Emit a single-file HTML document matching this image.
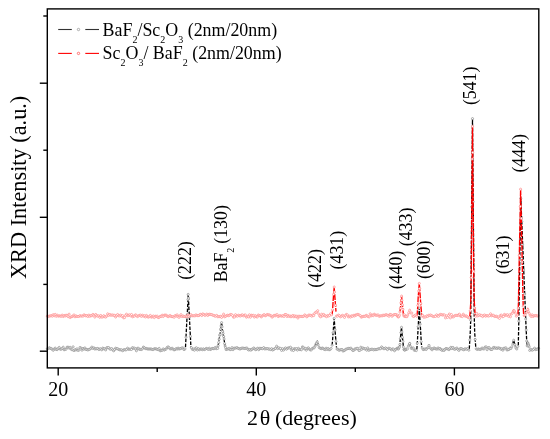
<!DOCTYPE html>
<html><head><meta charset="utf-8"><style>
html,body{margin:0;padding:0;background:#fff;}
svg{display:block;}
</style></head><body>
<svg width="550" height="439" viewBox="0 0 550 439" font-family="'Liberation Serif', 'Times New Roman', serif" fill="#000">
<rect width="550" height="439" fill="#fff"/>

<g fill="none" stroke="#000" stroke-width="1.3" stroke-dasharray="3.5 1.5"><polyline points="185.5,347.1 186.0,337.2 186.5,327.3 187.0,317.8 187.5,309.5 188.0,299.5 188.2,294.4 188.5,298.1 188.9,308.5 189.4,317.0 189.9,327.5 190.4,336.3 190.9,347.2"/><polyline points="218.2,345.7 218.7,342.4 219.2,339.2 219.7,335.4 220.1,334.6 220.6,329.1 221.1,326.0 221.6,322.6 222.1,326.9 222.6,331.3 223.1,333.4 223.6,336.5 224.1,339.0 224.6,343.7 225.1,346.0"/><polyline points="315.2,346.0 315.7,343.6 316.2,343.8 316.7,343.3 317.2,341.9 317.7,343.3 318.2,344.9"/><polyline points="332.1,345.2 332.6,339.7 333.1,332.8 333.6,326.1 334.2,318.3 334.5,323.0 335.0,329.8 335.5,336.2 336.0,341.5 336.5,347.5"/><polyline points="399.4,347.0 399.9,344.5 400.4,338.4 400.9,332.6 401.5,327.3 401.9,332.0 402.4,337.3 402.9,341.4 403.4,347.0"/><polyline points="408.8,344.6 409.3,344.1 409.7,343.5 410.3,346.2 410.8,347.0"/><polyline points="416.8,349.5 417.3,343.2 417.8,334.1 418.2,326.6 418.7,317.5 419.3,308.1 419.7,315.7 420.2,324.1 420.7,332.0 421.2,341.7 421.7,347.3"/><polyline points="469.3,348.9 469.8,339.9 470.2,333.7 470.7,320.2 471.2,263.0 471.7,206.8 472.2,150.8 472.5,118.6 472.7,143.7 473.2,201.7 473.7,257.5 474.2,313.7 474.7,333.1 475.2,339.4 475.7,346.7"/><polyline points="512.3,344.0 512.8,344.1 513.3,341.1 513.7,340.2 514.3,342.3 514.8,344.7 515.3,346.4"/><polyline points="518.3,345.6 518.8,321.1 519.3,290.3 519.8,260.0 520.3,230.5 520.8,198.3 521.3,210.0 521.8,221.5 522.2,232.3 522.7,244.9 523.2,256.3 523.7,270.0 524.2,282.3 524.7,294.0 525.2,306.7 525.7,319.0 526.2,330.0 526.7,341.0 527.2,345.9 527.8,342.9 528.2,344.0 528.7,345.2 529.2,346.9"/></g>
<g fill="#fff" stroke="#8c8c8c" stroke-width="0.7"><circle cx="47.3" cy="348.8" r="1.05"/><circle cx="48.3" cy="348.5" r="1.05"/><circle cx="49.3" cy="347.7" r="1.05"/><circle cx="50.3" cy="348.4" r="1.05"/><circle cx="51.3" cy="348.5" r="1.05"/><circle cx="52.3" cy="349.4" r="1.05"/><circle cx="53.2" cy="350.3" r="1.05"/><circle cx="54.2" cy="349.1" r="1.05"/><circle cx="55.2" cy="348.1" r="1.05"/><circle cx="56.2" cy="349.5" r="1.05"/><circle cx="57.2" cy="349.6" r="1.05"/><circle cx="58.2" cy="348.5" r="1.05"/><circle cx="59.2" cy="347.4" r="1.05"/><circle cx="60.2" cy="349.2" r="1.05"/><circle cx="61.2" cy="349.2" r="1.05"/><circle cx="62.2" cy="348.5" r="1.05"/><circle cx="63.2" cy="347.2" r="1.05"/><circle cx="64.1" cy="349.8" r="1.05"/><circle cx="65.1" cy="349.3" r="1.05"/><circle cx="66.1" cy="349.2" r="1.05"/><circle cx="67.1" cy="347.2" r="1.05"/><circle cx="68.1" cy="347.2" r="1.05"/><circle cx="69.1" cy="348.1" r="1.05"/><circle cx="70.1" cy="347.3" r="1.05"/><circle cx="71.1" cy="349.1" r="1.05"/><circle cx="72.1" cy="349.8" r="1.05"/><circle cx="73.1" cy="346.8" r="1.05"/><circle cx="74.0" cy="350.6" r="1.05"/><circle cx="75.0" cy="349.7" r="1.05"/><circle cx="76.0" cy="350.0" r="1.05"/><circle cx="77.0" cy="348.8" r="1.05"/><circle cx="78.0" cy="350.4" r="1.05"/><circle cx="79.0" cy="350.1" r="1.05"/><circle cx="80.0" cy="347.5" r="1.05"/><circle cx="81.0" cy="348.1" r="1.05"/><circle cx="82.0" cy="350.2" r="1.05"/><circle cx="83.0" cy="348.4" r="1.05"/><circle cx="84.0" cy="349.2" r="1.05"/><circle cx="84.9" cy="347.9" r="1.05"/><circle cx="85.9" cy="349.4" r="1.05"/><circle cx="86.9" cy="349.5" r="1.05"/><circle cx="87.9" cy="350.0" r="1.05"/><circle cx="88.9" cy="349.4" r="1.05"/><circle cx="89.9" cy="349.2" r="1.05"/><circle cx="90.9" cy="348.3" r="1.05"/><circle cx="91.9" cy="347.1" r="1.05"/><circle cx="92.9" cy="348.4" r="1.05"/><circle cx="93.9" cy="347.8" r="1.05"/><circle cx="94.8" cy="349.0" r="1.05"/><circle cx="95.8" cy="348.7" r="1.05"/><circle cx="96.8" cy="348.8" r="1.05"/><circle cx="97.8" cy="348.4" r="1.05"/><circle cx="98.8" cy="349.5" r="1.05"/><circle cx="99.8" cy="349.0" r="1.05"/><circle cx="100.8" cy="348.8" r="1.05"/><circle cx="101.8" cy="349.8" r="1.05"/><circle cx="102.8" cy="348.1" r="1.05"/><circle cx="103.8" cy="348.7" r="1.05"/><circle cx="104.8" cy="348.9" r="1.05"/><circle cx="105.7" cy="349.9" r="1.05"/><circle cx="106.7" cy="347.7" r="1.05"/><circle cx="107.7" cy="347.6" r="1.05"/><circle cx="108.7" cy="347.6" r="1.05"/><circle cx="109.7" cy="348.9" r="1.05"/><circle cx="110.7" cy="349.2" r="1.05"/><circle cx="111.7" cy="348.6" r="1.05"/><circle cx="112.7" cy="349.8" r="1.05"/><circle cx="113.7" cy="350.8" r="1.05"/><circle cx="114.7" cy="349.5" r="1.05"/><circle cx="115.6" cy="348.2" r="1.05"/><circle cx="116.6" cy="348.6" r="1.05"/><circle cx="117.6" cy="348.7" r="1.05"/><circle cx="118.6" cy="349.4" r="1.05"/><circle cx="119.6" cy="349.8" r="1.05"/><circle cx="120.6" cy="349.8" r="1.05"/><circle cx="121.6" cy="349.8" r="1.05"/><circle cx="122.6" cy="350.7" r="1.05"/><circle cx="123.6" cy="349.9" r="1.05"/><circle cx="124.6" cy="349.6" r="1.05"/><circle cx="125.6" cy="349.9" r="1.05"/><circle cx="126.5" cy="349.6" r="1.05"/><circle cx="127.5" cy="348.2" r="1.05"/><circle cx="128.5" cy="349.3" r="1.05"/><circle cx="129.5" cy="349.2" r="1.05"/><circle cx="130.5" cy="349.2" r="1.05"/><circle cx="131.5" cy="349.4" r="1.05"/><circle cx="132.5" cy="347.6" r="1.05"/><circle cx="133.5" cy="348.3" r="1.05"/><circle cx="134.5" cy="348.1" r="1.05"/><circle cx="135.5" cy="348.9" r="1.05"/><circle cx="136.4" cy="350.8" r="1.05"/><circle cx="137.4" cy="348.3" r="1.05"/><circle cx="138.4" cy="348.3" r="1.05"/><circle cx="139.4" cy="349.4" r="1.05"/><circle cx="140.4" cy="349.4" r="1.05"/><circle cx="141.4" cy="349.5" r="1.05"/><circle cx="142.4" cy="348.8" r="1.05"/><circle cx="143.4" cy="347.1" r="1.05"/><circle cx="144.4" cy="347.7" r="1.05"/><circle cx="145.4" cy="348.6" r="1.05"/><circle cx="146.4" cy="348.5" r="1.05"/><circle cx="147.3" cy="348.9" r="1.05"/><circle cx="148.3" cy="349.0" r="1.05"/><circle cx="149.3" cy="349.0" r="1.05"/><circle cx="150.3" cy="349.0" r="1.05"/><circle cx="151.3" cy="349.0" r="1.05"/><circle cx="152.3" cy="349.5" r="1.05"/><circle cx="153.3" cy="349.5" r="1.05"/><circle cx="154.3" cy="348.7" r="1.05"/><circle cx="155.3" cy="348.8" r="1.05"/><circle cx="156.3" cy="348.8" r="1.05"/><circle cx="157.2" cy="349.4" r="1.05"/><circle cx="158.2" cy="349.7" r="1.05"/><circle cx="159.2" cy="348.4" r="1.05"/><circle cx="160.2" cy="350.8" r="1.05"/><circle cx="161.2" cy="350.3" r="1.05"/><circle cx="162.2" cy="350.3" r="1.05"/><circle cx="163.2" cy="348.9" r="1.05"/><circle cx="164.2" cy="350.1" r="1.05"/><circle cx="165.2" cy="349.3" r="1.05"/><circle cx="166.2" cy="349.0" r="1.05"/><circle cx="167.2" cy="347.5" r="1.05"/><circle cx="168.1" cy="346.8" r="1.05"/><circle cx="169.1" cy="347.6" r="1.05"/><circle cx="170.1" cy="348.9" r="1.05"/><circle cx="171.1" cy="348.9" r="1.05"/><circle cx="172.1" cy="348.2" r="1.05"/><circle cx="173.1" cy="349.2" r="1.05"/><circle cx="174.1" cy="349.9" r="1.05"/><circle cx="175.1" cy="349.6" r="1.05"/><circle cx="176.1" cy="348.6" r="1.05"/><circle cx="177.1" cy="349.1" r="1.05"/><circle cx="178.1" cy="348.1" r="1.05"/><circle cx="179.0" cy="349.0" r="1.05"/><circle cx="180.0" cy="348.8" r="1.05"/><circle cx="181.0" cy="348.4" r="1.05"/><circle cx="182.0" cy="347.8" r="1.05"/><circle cx="183.0" cy="348.0" r="1.05"/><circle cx="184.0" cy="349.6" r="1.05"/><circle cx="185.0" cy="348.9" r="1.05"/><circle cx="186.0" cy="337.2" r="1.05"/><circle cx="187.0" cy="317.8" r="1.05"/><circle cx="188.0" cy="299.5" r="1.05"/><circle cx="188.2" cy="294.4" r="1.05"/><circle cx="188.5" cy="298.1" r="1.05"/><circle cx="189.4" cy="317.0" r="1.05"/><circle cx="190.4" cy="336.3" r="1.05"/><circle cx="191.4" cy="347.7" r="1.05"/><circle cx="192.4" cy="349.4" r="1.05"/><circle cx="193.4" cy="349.1" r="1.05"/><circle cx="194.4" cy="350.2" r="1.05"/><circle cx="195.4" cy="348.4" r="1.05"/><circle cx="196.4" cy="347.8" r="1.05"/><circle cx="197.4" cy="350.0" r="1.05"/><circle cx="198.4" cy="348.6" r="1.05"/><circle cx="199.3" cy="349.7" r="1.05"/><circle cx="200.3" cy="349.1" r="1.05"/><circle cx="201.3" cy="348.9" r="1.05"/><circle cx="202.3" cy="349.7" r="1.05"/><circle cx="203.3" cy="348.8" r="1.05"/><circle cx="204.3" cy="349.6" r="1.05"/><circle cx="205.3" cy="349.2" r="1.05"/><circle cx="206.3" cy="348.4" r="1.05"/><circle cx="207.3" cy="348.8" r="1.05"/><circle cx="208.3" cy="349.4" r="1.05"/><circle cx="209.3" cy="348.2" r="1.05"/><circle cx="210.2" cy="349.5" r="1.05"/><circle cx="211.2" cy="349.1" r="1.05"/><circle cx="212.2" cy="348.4" r="1.05"/><circle cx="213.2" cy="348.7" r="1.05"/><circle cx="214.2" cy="348.6" r="1.05"/><circle cx="215.2" cy="347.5" r="1.05"/><circle cx="216.2" cy="348.7" r="1.05"/><circle cx="217.2" cy="347.5" r="1.05"/><circle cx="217.7" cy="348.4" r="1.05"/><circle cx="218.2" cy="345.7" r="1.05"/><circle cx="218.7" cy="342.4" r="1.05"/><circle cx="219.2" cy="339.2" r="1.05"/><circle cx="219.7" cy="335.4" r="1.05"/><circle cx="220.1" cy="334.6" r="1.05"/><circle cx="220.6" cy="329.1" r="1.05"/><circle cx="221.1" cy="326.0" r="1.05"/><circle cx="221.6" cy="322.6" r="1.05"/><circle cx="222.1" cy="326.9" r="1.05"/><circle cx="222.6" cy="331.3" r="1.05"/><circle cx="223.1" cy="333.4" r="1.05"/><circle cx="223.6" cy="336.5" r="1.05"/><circle cx="224.1" cy="339.0" r="1.05"/><circle cx="224.6" cy="343.7" r="1.05"/><circle cx="225.1" cy="346.0" r="1.05"/><circle cx="225.6" cy="347.7" r="1.05"/><circle cx="226.1" cy="349.6" r="1.05"/><circle cx="227.1" cy="349.2" r="1.05"/><circle cx="228.1" cy="349.0" r="1.05"/><circle cx="229.1" cy="348.3" r="1.05"/><circle cx="230.1" cy="349.7" r="1.05"/><circle cx="231.0" cy="349.4" r="1.05"/><circle cx="232.0" cy="347.6" r="1.05"/><circle cx="233.0" cy="349.7" r="1.05"/><circle cx="234.0" cy="348.2" r="1.05"/><circle cx="235.0" cy="348.1" r="1.05"/><circle cx="236.0" cy="348.1" r="1.05"/><circle cx="237.0" cy="347.6" r="1.05"/><circle cx="238.0" cy="348.3" r="1.05"/><circle cx="239.0" cy="348.7" r="1.05"/><circle cx="240.0" cy="349.1" r="1.05"/><circle cx="240.9" cy="348.5" r="1.05"/><circle cx="241.9" cy="348.1" r="1.05"/><circle cx="242.9" cy="348.1" r="1.05"/><circle cx="243.9" cy="348.3" r="1.05"/><circle cx="244.9" cy="348.5" r="1.05"/><circle cx="245.9" cy="348.2" r="1.05"/><circle cx="246.9" cy="348.0" r="1.05"/><circle cx="247.9" cy="349.4" r="1.05"/><circle cx="248.9" cy="350.1" r="1.05"/><circle cx="249.9" cy="349.4" r="1.05"/><circle cx="250.9" cy="350.2" r="1.05"/><circle cx="251.8" cy="349.3" r="1.05"/><circle cx="252.8" cy="348.8" r="1.05"/><circle cx="253.8" cy="348.0" r="1.05"/><circle cx="254.8" cy="349.0" r="1.05"/><circle cx="255.8" cy="349.7" r="1.05"/><circle cx="256.8" cy="348.9" r="1.05"/><circle cx="257.8" cy="348.2" r="1.05"/><circle cx="258.8" cy="349.7" r="1.05"/><circle cx="259.8" cy="348.3" r="1.05"/><circle cx="260.8" cy="348.4" r="1.05"/><circle cx="261.7" cy="348.5" r="1.05"/><circle cx="262.7" cy="348.7" r="1.05"/><circle cx="263.7" cy="347.6" r="1.05"/><circle cx="264.7" cy="348.9" r="1.05"/><circle cx="265.7" cy="348.7" r="1.05"/><circle cx="266.7" cy="348.7" r="1.05"/><circle cx="267.7" cy="348.6" r="1.05"/><circle cx="268.7" cy="349.2" r="1.05"/><circle cx="269.7" cy="349.0" r="1.05"/><circle cx="270.7" cy="349.6" r="1.05"/><circle cx="271.7" cy="348.7" r="1.05"/><circle cx="272.6" cy="350.0" r="1.05"/><circle cx="273.6" cy="349.5" r="1.05"/><circle cx="274.6" cy="348.7" r="1.05"/><circle cx="275.6" cy="348.3" r="1.05"/><circle cx="276.6" cy="346.2" r="1.05"/><circle cx="277.6" cy="348.6" r="1.05"/><circle cx="278.6" cy="347.7" r="1.05"/><circle cx="279.6" cy="348.4" r="1.05"/><circle cx="280.6" cy="348.4" r="1.05"/><circle cx="281.6" cy="350.4" r="1.05"/><circle cx="282.5" cy="348.7" r="1.05"/><circle cx="283.5" cy="350.1" r="1.05"/><circle cx="284.5" cy="348.8" r="1.05"/><circle cx="285.5" cy="347.9" r="1.05"/><circle cx="286.5" cy="349.2" r="1.05"/><circle cx="287.5" cy="348.3" r="1.05"/><circle cx="288.5" cy="347.8" r="1.05"/><circle cx="289.5" cy="348.0" r="1.05"/><circle cx="290.5" cy="347.2" r="1.05"/><circle cx="291.5" cy="350.0" r="1.05"/><circle cx="292.5" cy="348.8" r="1.05"/><circle cx="293.4" cy="350.5" r="1.05"/><circle cx="294.4" cy="348.6" r="1.05"/><circle cx="295.4" cy="349.1" r="1.05"/><circle cx="296.4" cy="348.6" r="1.05"/><circle cx="297.4" cy="350.1" r="1.05"/><circle cx="298.4" cy="348.3" r="1.05"/><circle cx="299.4" cy="349.5" r="1.05"/><circle cx="300.4" cy="349.5" r="1.05"/><circle cx="301.4" cy="349.8" r="1.05"/><circle cx="302.4" cy="346.9" r="1.05"/><circle cx="303.3" cy="347.3" r="1.05"/><circle cx="304.3" cy="348.8" r="1.05"/><circle cx="305.3" cy="348.4" r="1.05"/><circle cx="306.3" cy="350.2" r="1.05"/><circle cx="307.3" cy="348.5" r="1.05"/><circle cx="308.3" cy="347.8" r="1.05"/><circle cx="309.3" cy="349.2" r="1.05"/><circle cx="310.3" cy="349.9" r="1.05"/><circle cx="311.3" cy="349.9" r="1.05"/><circle cx="312.3" cy="348.5" r="1.05"/><circle cx="313.3" cy="347.9" r="1.05"/><circle cx="314.2" cy="347.8" r="1.05"/><circle cx="315.2" cy="346.0" r="1.05"/><circle cx="316.2" cy="343.8" r="1.05"/><circle cx="316.7" cy="343.3" r="1.05"/><circle cx="317.2" cy="341.9" r="1.05"/><circle cx="318.2" cy="344.9" r="1.05"/><circle cx="319.2" cy="347.5" r="1.05"/><circle cx="320.2" cy="348.3" r="1.05"/><circle cx="321.2" cy="348.7" r="1.05"/><circle cx="322.2" cy="348.0" r="1.05"/><circle cx="323.2" cy="348.4" r="1.05"/><circle cx="324.1" cy="349.3" r="1.05"/><circle cx="325.1" cy="349.7" r="1.05"/><circle cx="326.1" cy="348.2" r="1.05"/><circle cx="327.1" cy="349.5" r="1.05"/><circle cx="328.1" cy="348.4" r="1.05"/><circle cx="329.1" cy="349.8" r="1.05"/><circle cx="330.1" cy="349.5" r="1.05"/><circle cx="331.1" cy="348.4" r="1.05"/><circle cx="332.1" cy="345.2" r="1.05"/><circle cx="333.1" cy="332.8" r="1.05"/><circle cx="334.2" cy="318.3" r="1.05"/><circle cx="335.0" cy="329.8" r="1.05"/><circle cx="336.0" cy="341.5" r="1.05"/><circle cx="337.0" cy="349.1" r="1.05"/><circle cx="338.0" cy="349.2" r="1.05"/><circle cx="339.0" cy="350.3" r="1.05"/><circle cx="340.0" cy="350.0" r="1.05"/><circle cx="341.0" cy="349.6" r="1.05"/><circle cx="342.0" cy="349.4" r="1.05"/><circle cx="343.0" cy="351.1" r="1.05"/><circle cx="344.0" cy="350.7" r="1.05"/><circle cx="344.9" cy="350.1" r="1.05"/><circle cx="345.9" cy="349.2" r="1.05"/><circle cx="346.9" cy="348.9" r="1.05"/><circle cx="347.9" cy="348.6" r="1.05"/><circle cx="348.9" cy="348.3" r="1.05"/><circle cx="349.9" cy="348.7" r="1.05"/><circle cx="350.9" cy="348.1" r="1.05"/><circle cx="351.9" cy="349.4" r="1.05"/><circle cx="352.9" cy="350.6" r="1.05"/><circle cx="353.9" cy="350.2" r="1.05"/><circle cx="354.9" cy="348.9" r="1.05"/><circle cx="355.8" cy="348.9" r="1.05"/><circle cx="356.8" cy="348.4" r="1.05"/><circle cx="357.8" cy="348.3" r="1.05"/><circle cx="358.8" cy="350.4" r="1.05"/><circle cx="359.8" cy="350.4" r="1.05"/><circle cx="360.8" cy="347.2" r="1.05"/><circle cx="361.8" cy="349.3" r="1.05"/><circle cx="362.8" cy="347.9" r="1.05"/><circle cx="363.8" cy="348.4" r="1.05"/><circle cx="364.8" cy="348.9" r="1.05"/><circle cx="365.8" cy="348.8" r="1.05"/><circle cx="366.7" cy="350.2" r="1.05"/><circle cx="367.7" cy="347.9" r="1.05"/><circle cx="368.7" cy="350.3" r="1.05"/><circle cx="369.7" cy="349.8" r="1.05"/><circle cx="370.7" cy="349.5" r="1.05"/><circle cx="371.7" cy="349.2" r="1.05"/><circle cx="372.7" cy="349.3" r="1.05"/><circle cx="373.7" cy="349.9" r="1.05"/><circle cx="374.7" cy="349.4" r="1.05"/><circle cx="375.7" cy="349.6" r="1.05"/><circle cx="376.6" cy="349.5" r="1.05"/><circle cx="377.6" cy="349.2" r="1.05"/><circle cx="378.6" cy="348.7" r="1.05"/><circle cx="379.6" cy="348.7" r="1.05"/><circle cx="380.6" cy="348.7" r="1.05"/><circle cx="381.6" cy="346.9" r="1.05"/><circle cx="382.6" cy="347.8" r="1.05"/><circle cx="383.6" cy="348.6" r="1.05"/><circle cx="384.6" cy="348.6" r="1.05"/><circle cx="385.6" cy="347.9" r="1.05"/><circle cx="386.6" cy="348.7" r="1.05"/><circle cx="387.5" cy="349.6" r="1.05"/><circle cx="388.5" cy="348.3" r="1.05"/><circle cx="389.5" cy="348.4" r="1.05"/><circle cx="390.5" cy="348.9" r="1.05"/><circle cx="391.5" cy="349.8" r="1.05"/><circle cx="392.5" cy="348.9" r="1.05"/><circle cx="393.5" cy="349.1" r="1.05"/><circle cx="394.5" cy="350.7" r="1.05"/><circle cx="395.5" cy="349.5" r="1.05"/><circle cx="396.5" cy="348.7" r="1.05"/><circle cx="397.4" cy="348.1" r="1.05"/><circle cx="397.9" cy="348.8" r="1.05"/><circle cx="398.4" cy="349.0" r="1.05"/><circle cx="398.9" cy="348.0" r="1.05"/><circle cx="399.4" cy="347.0" r="1.05"/><circle cx="399.9" cy="344.5" r="1.05"/><circle cx="400.4" cy="338.4" r="1.05"/><circle cx="400.9" cy="332.6" r="1.05"/><circle cx="401.5" cy="327.3" r="1.05"/><circle cx="401.9" cy="332.0" r="1.05"/><circle cx="402.4" cy="337.3" r="1.05"/><circle cx="402.9" cy="341.4" r="1.05"/><circle cx="403.4" cy="347.0" r="1.05"/><circle cx="403.9" cy="349.5" r="1.05"/><circle cx="404.4" cy="349.9" r="1.05"/><circle cx="404.9" cy="350.2" r="1.05"/><circle cx="405.4" cy="349.3" r="1.05"/><circle cx="405.9" cy="349.5" r="1.05"/><circle cx="406.4" cy="348.9" r="1.05"/><circle cx="407.4" cy="349.0" r="1.05"/><circle cx="408.3" cy="346.1" r="1.05"/><circle cx="409.3" cy="344.1" r="1.05"/><circle cx="409.7" cy="343.5" r="1.05"/><circle cx="410.3" cy="346.2" r="1.05"/><circle cx="411.3" cy="348.4" r="1.05"/><circle cx="412.3" cy="348.2" r="1.05"/><circle cx="413.3" cy="348.0" r="1.05"/><circle cx="414.3" cy="350.3" r="1.05"/><circle cx="415.3" cy="350.0" r="1.05"/><circle cx="416.3" cy="350.6" r="1.05"/><circle cx="417.3" cy="343.2" r="1.05"/><circle cx="418.2" cy="326.6" r="1.05"/><circle cx="419.3" cy="308.1" r="1.05"/><circle cx="420.2" cy="324.1" r="1.05"/><circle cx="421.2" cy="341.7" r="1.05"/><circle cx="422.2" cy="348.0" r="1.05"/><circle cx="423.2" cy="349.6" r="1.05"/><circle cx="424.2" cy="349.3" r="1.05"/><circle cx="425.2" cy="348.8" r="1.05"/><circle cx="426.2" cy="349.5" r="1.05"/><circle cx="427.2" cy="348.2" r="1.05"/><circle cx="428.2" cy="347.6" r="1.05"/><circle cx="429.0" cy="345.4" r="1.05"/><circle cx="430.1" cy="347.8" r="1.05"/><circle cx="431.1" cy="348.8" r="1.05"/><circle cx="432.1" cy="349.8" r="1.05"/><circle cx="433.1" cy="348.5" r="1.05"/><circle cx="434.1" cy="347.9" r="1.05"/><circle cx="435.1" cy="348.7" r="1.05"/><circle cx="436.1" cy="349.0" r="1.05"/><circle cx="437.1" cy="349.1" r="1.05"/><circle cx="438.1" cy="347.9" r="1.05"/><circle cx="439.0" cy="349.1" r="1.05"/><circle cx="440.0" cy="348.4" r="1.05"/><circle cx="441.0" cy="349.5" r="1.05"/><circle cx="442.0" cy="350.4" r="1.05"/><circle cx="443.0" cy="349.8" r="1.05"/><circle cx="444.0" cy="350.5" r="1.05"/><circle cx="445.0" cy="349.4" r="1.05"/><circle cx="446.0" cy="348.4" r="1.05"/><circle cx="447.0" cy="348.8" r="1.05"/><circle cx="448.0" cy="349.0" r="1.05"/><circle cx="449.0" cy="349.7" r="1.05"/><circle cx="449.9" cy="348.6" r="1.05"/><circle cx="450.9" cy="347.3" r="1.05"/><circle cx="451.9" cy="348.6" r="1.05"/><circle cx="452.9" cy="347.4" r="1.05"/><circle cx="453.9" cy="348.9" r="1.05"/><circle cx="454.9" cy="349.3" r="1.05"/><circle cx="455.9" cy="348.7" r="1.05"/><circle cx="456.9" cy="348.0" r="1.05"/><circle cx="457.9" cy="349.4" r="1.05"/><circle cx="458.9" cy="350.4" r="1.05"/><circle cx="459.8" cy="349.0" r="1.05"/><circle cx="460.8" cy="348.5" r="1.05"/><circle cx="461.8" cy="348.8" r="1.05"/><circle cx="462.8" cy="349.3" r="1.05"/><circle cx="463.8" cy="349.8" r="1.05"/><circle cx="464.8" cy="348.9" r="1.05"/><circle cx="465.8" cy="349.0" r="1.05"/><circle cx="466.8" cy="349.2" r="1.05"/><circle cx="467.8" cy="348.5" r="1.05"/><circle cx="468.8" cy="350.2" r="1.05"/><circle cx="469.8" cy="339.9" r="1.05"/><circle cx="470.7" cy="320.2" r="1.05"/><circle cx="471.7" cy="206.8" r="1.05"/><circle cx="472.5" cy="118.6" r="1.05"/><circle cx="473.2" cy="201.7" r="1.05"/><circle cx="474.2" cy="313.7" r="1.05"/><circle cx="475.2" cy="339.4" r="1.05"/><circle cx="476.2" cy="348.8" r="1.05"/><circle cx="477.2" cy="349.4" r="1.05"/><circle cx="478.2" cy="348.9" r="1.05"/><circle cx="479.2" cy="349.3" r="1.05"/><circle cx="480.2" cy="349.4" r="1.05"/><circle cx="481.1" cy="349.0" r="1.05"/><circle cx="482.1" cy="348.0" r="1.05"/><circle cx="483.1" cy="348.9" r="1.05"/><circle cx="484.1" cy="348.9" r="1.05"/><circle cx="485.1" cy="347.1" r="1.05"/><circle cx="486.1" cy="346.8" r="1.05"/><circle cx="487.1" cy="349.7" r="1.05"/><circle cx="488.1" cy="347.8" r="1.05"/><circle cx="489.1" cy="347.5" r="1.05"/><circle cx="490.1" cy="348.9" r="1.05"/><circle cx="491.0" cy="349.6" r="1.05"/><circle cx="492.0" cy="349.5" r="1.05"/><circle cx="493.0" cy="347.9" r="1.05"/><circle cx="494.0" cy="347.3" r="1.05"/><circle cx="495.0" cy="348.3" r="1.05"/><circle cx="496.0" cy="347.8" r="1.05"/><circle cx="497.0" cy="348.5" r="1.05"/><circle cx="498.0" cy="347.8" r="1.05"/><circle cx="499.0" cy="348.0" r="1.05"/><circle cx="500.0" cy="348.3" r="1.05"/><circle cx="501.0" cy="349.3" r="1.05"/><circle cx="501.9" cy="348.7" r="1.05"/><circle cx="502.9" cy="350.2" r="1.05"/><circle cx="503.9" cy="348.3" r="1.05"/><circle cx="504.9" cy="348.1" r="1.05"/><circle cx="505.9" cy="347.8" r="1.05"/><circle cx="506.9" cy="349.9" r="1.05"/><circle cx="507.9" cy="349.8" r="1.05"/><circle cx="508.9" cy="349.5" r="1.05"/><circle cx="509.9" cy="348.3" r="1.05"/><circle cx="510.9" cy="348.5" r="1.05"/><circle cx="511.8" cy="346.8" r="1.05"/><circle cx="512.8" cy="344.1" r="1.05"/><circle cx="513.7" cy="340.2" r="1.05"/><circle cx="514.8" cy="344.7" r="1.05"/><circle cx="515.8" cy="347.9" r="1.05"/><circle cx="516.8" cy="349.0" r="1.05"/><circle cx="517.8" cy="346.4" r="1.05"/><circle cx="518.8" cy="321.1" r="1.05"/><circle cx="519.8" cy="260.0" r="1.05"/><circle cx="520.8" cy="198.3" r="1.05"/><circle cx="521.8" cy="221.5" r="1.05"/><circle cx="522.7" cy="244.9" r="1.05"/><circle cx="523.7" cy="270.0" r="1.05"/><circle cx="524.7" cy="294.0" r="1.05"/><circle cx="525.7" cy="319.0" r="1.05"/><circle cx="526.2" cy="330.0" r="1.05"/><circle cx="526.7" cy="341.0" r="1.05"/><circle cx="527.2" cy="345.9" r="1.05"/><circle cx="527.8" cy="342.9" r="1.05"/><circle cx="528.2" cy="344.0" r="1.05"/><circle cx="528.7" cy="345.2" r="1.05"/><circle cx="529.2" cy="346.9" r="1.05"/><circle cx="529.7" cy="350.4" r="1.05"/><circle cx="530.7" cy="349.4" r="1.05"/><circle cx="531.7" cy="349.9" r="1.05"/><circle cx="532.6" cy="350.1" r="1.05"/><circle cx="533.6" cy="349.4" r="1.05"/><circle cx="534.6" cy="348.2" r="1.05"/><circle cx="535.6" cy="349.6" r="1.05"/><circle cx="536.6" cy="349.3" r="1.05"/><circle cx="537.6" cy="349.0" r="1.05"/><circle cx="538.6" cy="348.3" r="1.05"/></g>
<g fill="none" stroke="#f00" stroke-width="1.35" stroke-dasharray="6 1"><polyline points="332.1,314.9 332.6,309.8 333.1,301.3 333.6,294.3 334.2,287.0 334.5,292.1 335.0,298.6 335.5,305.3 336.0,311.6"/><polyline points="399.9,312.0 400.4,308.3 400.9,302.9 401.6,296.1 401.9,300.3 402.4,304.9 402.9,309.4 403.4,314.5"/><polyline points="416.8,316.3 417.3,312.8 417.8,305.4 418.2,296.9 418.7,291.0 419.3,283.4 419.7,288.7 420.2,296.2 420.7,303.5 421.2,309.1 421.7,315.9"/><polyline points="469.8,316.4 470.2,310.8 470.7,303.4 471.2,277.7 471.7,218.4 472.2,159.0 472.5,126.3 472.7,152.5 473.2,211.5 473.7,271.2 474.2,300.8 474.7,308.0 475.2,315.3"/><polyline points="512.8,311.4 513.3,311.3 513.7,310.5 514.3,311.1 514.8,312.9"/><polyline points="517.8,315.4 518.3,308.1 518.8,282.8 519.3,255.5 519.8,230.3 520.3,206.5 520.6,189.2 521.3,218.4 521.8,240.5 522.2,262.1 522.7,283.8 523.2,306.2 523.7,315.7"/><polyline points="526.2,312.7 526.7,311.7 527.2,311.0 527.8,309.5 528.2,311.3 528.7,312.4 529.2,313.3"/></g>
<g fill="#fff" stroke="#f88" stroke-width="0.7"><circle cx="47.3" cy="316.1" r="1.05"/><circle cx="48.3" cy="316.4" r="1.05"/><circle cx="49.3" cy="316.1" r="1.05"/><circle cx="50.3" cy="315.9" r="1.05"/><circle cx="51.3" cy="315.6" r="1.05"/><circle cx="52.3" cy="316.2" r="1.05"/><circle cx="53.2" cy="314.7" r="1.05"/><circle cx="54.2" cy="315.8" r="1.05"/><circle cx="55.2" cy="314.4" r="1.05"/><circle cx="56.2" cy="316.3" r="1.05"/><circle cx="57.2" cy="315.1" r="1.05"/><circle cx="58.2" cy="316.2" r="1.05"/><circle cx="59.2" cy="315.8" r="1.05"/><circle cx="60.2" cy="316.0" r="1.05"/><circle cx="61.2" cy="316.3" r="1.05"/><circle cx="62.2" cy="315.1" r="1.05"/><circle cx="63.2" cy="316.5" r="1.05"/><circle cx="64.1" cy="315.5" r="1.05"/><circle cx="65.1" cy="316.1" r="1.05"/><circle cx="66.1" cy="315.2" r="1.05"/><circle cx="67.1" cy="315.4" r="1.05"/><circle cx="68.1" cy="316.7" r="1.05"/><circle cx="69.1" cy="314.2" r="1.05"/><circle cx="70.1" cy="317.5" r="1.05"/><circle cx="71.1" cy="316.8" r="1.05"/><circle cx="72.1" cy="316.6" r="1.05"/><circle cx="73.1" cy="315.9" r="1.05"/><circle cx="74.0" cy="314.9" r="1.05"/><circle cx="75.0" cy="316.8" r="1.05"/><circle cx="76.0" cy="315.8" r="1.05"/><circle cx="77.0" cy="316.6" r="1.05"/><circle cx="78.0" cy="316.4" r="1.05"/><circle cx="79.0" cy="316.4" r="1.05"/><circle cx="80.0" cy="315.6" r="1.05"/><circle cx="81.0" cy="316.2" r="1.05"/><circle cx="82.0" cy="315.9" r="1.05"/><circle cx="83.0" cy="316.2" r="1.05"/><circle cx="84.0" cy="314.8" r="1.05"/><circle cx="84.9" cy="315.3" r="1.05"/><circle cx="85.9" cy="315.9" r="1.05"/><circle cx="86.9" cy="315.5" r="1.05"/><circle cx="87.9" cy="316.5" r="1.05"/><circle cx="88.9" cy="315.1" r="1.05"/><circle cx="89.9" cy="316.3" r="1.05"/><circle cx="90.9" cy="315.5" r="1.05"/><circle cx="91.9" cy="315.8" r="1.05"/><circle cx="92.9" cy="314.4" r="1.05"/><circle cx="93.9" cy="315.2" r="1.05"/><circle cx="94.8" cy="317.1" r="1.05"/><circle cx="95.8" cy="314.5" r="1.05"/><circle cx="96.8" cy="315.6" r="1.05"/><circle cx="97.8" cy="316.2" r="1.05"/><circle cx="98.8" cy="315.8" r="1.05"/><circle cx="99.8" cy="317.3" r="1.05"/><circle cx="100.8" cy="315.5" r="1.05"/><circle cx="101.8" cy="317.1" r="1.05"/><circle cx="102.8" cy="316.9" r="1.05"/><circle cx="103.8" cy="315.7" r="1.05"/><circle cx="104.8" cy="316.7" r="1.05"/><circle cx="105.7" cy="317.1" r="1.05"/><circle cx="106.7" cy="316.0" r="1.05"/><circle cx="107.7" cy="313.8" r="1.05"/><circle cx="108.7" cy="315.4" r="1.05"/><circle cx="109.7" cy="314.5" r="1.05"/><circle cx="110.7" cy="315.2" r="1.05"/><circle cx="111.7" cy="315.1" r="1.05"/><circle cx="112.7" cy="315.0" r="1.05"/><circle cx="113.7" cy="315.4" r="1.05"/><circle cx="114.7" cy="315.3" r="1.05"/><circle cx="115.6" cy="317.0" r="1.05"/><circle cx="116.6" cy="315.7" r="1.05"/><circle cx="117.6" cy="314.5" r="1.05"/><circle cx="118.6" cy="315.7" r="1.05"/><circle cx="119.6" cy="315.9" r="1.05"/><circle cx="120.6" cy="315.1" r="1.05"/><circle cx="121.6" cy="316.3" r="1.05"/><circle cx="122.6" cy="315.6" r="1.05"/><circle cx="123.6" cy="317.8" r="1.05"/><circle cx="124.6" cy="317.6" r="1.05"/><circle cx="125.6" cy="315.4" r="1.05"/><circle cx="126.5" cy="314.2" r="1.05"/><circle cx="127.5" cy="315.6" r="1.05"/><circle cx="128.5" cy="315.3" r="1.05"/><circle cx="129.5" cy="314.8" r="1.05"/><circle cx="130.5" cy="315.8" r="1.05"/><circle cx="131.5" cy="314.5" r="1.05"/><circle cx="132.5" cy="316.8" r="1.05"/><circle cx="133.5" cy="316.1" r="1.05"/><circle cx="134.5" cy="316.1" r="1.05"/><circle cx="135.5" cy="314.8" r="1.05"/><circle cx="136.4" cy="315.4" r="1.05"/><circle cx="137.4" cy="316.6" r="1.05"/><circle cx="138.4" cy="315.9" r="1.05"/><circle cx="139.4" cy="315.4" r="1.05"/><circle cx="140.4" cy="315.1" r="1.05"/><circle cx="141.4" cy="316.4" r="1.05"/><circle cx="142.4" cy="315.2" r="1.05"/><circle cx="143.4" cy="316.2" r="1.05"/><circle cx="144.4" cy="315.7" r="1.05"/><circle cx="145.4" cy="317.0" r="1.05"/><circle cx="146.4" cy="315.4" r="1.05"/><circle cx="147.3" cy="316.6" r="1.05"/><circle cx="148.3" cy="317.2" r="1.05"/><circle cx="149.3" cy="316.6" r="1.05"/><circle cx="150.3" cy="315.4" r="1.05"/><circle cx="151.3" cy="317.2" r="1.05"/><circle cx="152.3" cy="316.8" r="1.05"/><circle cx="153.3" cy="316.0" r="1.05"/><circle cx="154.3" cy="317.6" r="1.05"/><circle cx="155.3" cy="316.2" r="1.05"/><circle cx="156.3" cy="316.5" r="1.05"/><circle cx="157.2" cy="316.1" r="1.05"/><circle cx="158.2" cy="317.6" r="1.05"/><circle cx="159.2" cy="317.3" r="1.05"/><circle cx="160.2" cy="316.3" r="1.05"/><circle cx="161.2" cy="316.5" r="1.05"/><circle cx="162.2" cy="315.2" r="1.05"/><circle cx="163.2" cy="316.5" r="1.05"/><circle cx="164.2" cy="315.2" r="1.05"/><circle cx="165.2" cy="315.1" r="1.05"/><circle cx="166.2" cy="315.2" r="1.05"/><circle cx="167.2" cy="316.1" r="1.05"/><circle cx="168.1" cy="316.7" r="1.05"/><circle cx="169.1" cy="316.1" r="1.05"/><circle cx="170.1" cy="315.5" r="1.05"/><circle cx="171.1" cy="316.5" r="1.05"/><circle cx="172.1" cy="316.7" r="1.05"/><circle cx="173.1" cy="316.6" r="1.05"/><circle cx="174.1" cy="317.3" r="1.05"/><circle cx="175.1" cy="315.6" r="1.05"/><circle cx="176.1" cy="316.2" r="1.05"/><circle cx="177.1" cy="314.8" r="1.05"/><circle cx="178.1" cy="316.5" r="1.05"/><circle cx="179.0" cy="317.4" r="1.05"/><circle cx="180.0" cy="316.0" r="1.05"/><circle cx="181.0" cy="314.6" r="1.05"/><circle cx="182.0" cy="316.5" r="1.05"/><circle cx="183.0" cy="315.9" r="1.05"/><circle cx="184.0" cy="316.6" r="1.05"/><circle cx="185.0" cy="316.6" r="1.05"/><circle cx="186.0" cy="316.0" r="1.05"/><circle cx="187.0" cy="316.7" r="1.05"/><circle cx="188.0" cy="314.9" r="1.05"/><circle cx="188.9" cy="316.4" r="1.05"/><circle cx="189.9" cy="315.4" r="1.05"/><circle cx="190.9" cy="314.6" r="1.05"/><circle cx="191.9" cy="315.8" r="1.05"/><circle cx="192.9" cy="315.8" r="1.05"/><circle cx="193.9" cy="315.7" r="1.05"/><circle cx="194.9" cy="315.9" r="1.05"/><circle cx="195.9" cy="314.9" r="1.05"/><circle cx="196.9" cy="315.3" r="1.05"/><circle cx="197.9" cy="315.7" r="1.05"/><circle cx="198.9" cy="315.6" r="1.05"/><circle cx="199.8" cy="314.6" r="1.05"/><circle cx="200.8" cy="314.3" r="1.05"/><circle cx="201.8" cy="315.5" r="1.05"/><circle cx="202.8" cy="313.9" r="1.05"/><circle cx="203.8" cy="314.4" r="1.05"/><circle cx="204.8" cy="315.3" r="1.05"/><circle cx="205.8" cy="315.0" r="1.05"/><circle cx="206.8" cy="314.1" r="1.05"/><circle cx="207.8" cy="315.4" r="1.05"/><circle cx="208.8" cy="314.5" r="1.05"/><circle cx="209.7" cy="314.2" r="1.05"/><circle cx="210.7" cy="314.5" r="1.05"/><circle cx="211.7" cy="314.6" r="1.05"/><circle cx="212.7" cy="315.2" r="1.05"/><circle cx="213.7" cy="315.4" r="1.05"/><circle cx="214.7" cy="316.0" r="1.05"/><circle cx="215.7" cy="316.2" r="1.05"/><circle cx="216.7" cy="315.4" r="1.05"/><circle cx="217.7" cy="316.7" r="1.05"/><circle cx="218.7" cy="316.6" r="1.05"/><circle cx="219.7" cy="316.6" r="1.05"/><circle cx="220.6" cy="316.3" r="1.05"/><circle cx="221.6" cy="317.4" r="1.05"/><circle cx="222.6" cy="316.0" r="1.05"/><circle cx="223.6" cy="314.1" r="1.05"/><circle cx="224.6" cy="316.8" r="1.05"/><circle cx="225.6" cy="316.3" r="1.05"/><circle cx="226.6" cy="315.6" r="1.05"/><circle cx="227.6" cy="315.2" r="1.05"/><circle cx="228.6" cy="315.7" r="1.05"/><circle cx="229.6" cy="315.2" r="1.05"/><circle cx="230.5" cy="314.5" r="1.05"/><circle cx="231.5" cy="314.6" r="1.05"/><circle cx="232.5" cy="315.4" r="1.05"/><circle cx="233.5" cy="317.2" r="1.05"/><circle cx="234.5" cy="317.0" r="1.05"/><circle cx="235.5" cy="314.7" r="1.05"/><circle cx="236.5" cy="315.8" r="1.05"/><circle cx="237.5" cy="316.2" r="1.05"/><circle cx="238.5" cy="315.2" r="1.05"/><circle cx="239.5" cy="315.7" r="1.05"/><circle cx="240.5" cy="316.0" r="1.05"/><circle cx="241.4" cy="315.2" r="1.05"/><circle cx="242.4" cy="314.8" r="1.05"/><circle cx="243.4" cy="315.9" r="1.05"/><circle cx="244.4" cy="315.2" r="1.05"/><circle cx="245.4" cy="315.0" r="1.05"/><circle cx="246.4" cy="317.2" r="1.05"/><circle cx="247.4" cy="316.4" r="1.05"/><circle cx="248.4" cy="316.9" r="1.05"/><circle cx="249.4" cy="314.8" r="1.05"/><circle cx="250.4" cy="317.2" r="1.05"/><circle cx="251.3" cy="315.2" r="1.05"/><circle cx="252.3" cy="315.5" r="1.05"/><circle cx="253.3" cy="315.3" r="1.05"/><circle cx="254.3" cy="317.1" r="1.05"/><circle cx="255.3" cy="315.6" r="1.05"/><circle cx="256.3" cy="316.7" r="1.05"/><circle cx="257.3" cy="317.0" r="1.05"/><circle cx="258.3" cy="315.0" r="1.05"/><circle cx="259.3" cy="315.6" r="1.05"/><circle cx="260.3" cy="315.7" r="1.05"/><circle cx="261.3" cy="316.9" r="1.05"/><circle cx="262.2" cy="315.9" r="1.05"/><circle cx="263.2" cy="315.2" r="1.05"/><circle cx="264.2" cy="314.6" r="1.05"/><circle cx="265.2" cy="315.8" r="1.05"/><circle cx="266.2" cy="315.3" r="1.05"/><circle cx="267.2" cy="314.5" r="1.05"/><circle cx="268.2" cy="314.9" r="1.05"/><circle cx="269.2" cy="314.8" r="1.05"/><circle cx="270.2" cy="315.4" r="1.05"/><circle cx="271.2" cy="315.9" r="1.05"/><circle cx="272.1" cy="317.2" r="1.05"/><circle cx="273.1" cy="316.2" r="1.05"/><circle cx="274.1" cy="315.3" r="1.05"/><circle cx="275.1" cy="315.9" r="1.05"/><circle cx="276.1" cy="315.0" r="1.05"/><circle cx="277.1" cy="314.6" r="1.05"/><circle cx="278.1" cy="316.5" r="1.05"/><circle cx="279.1" cy="316.0" r="1.05"/><circle cx="280.1" cy="315.6" r="1.05"/><circle cx="281.1" cy="316.1" r="1.05"/><circle cx="282.1" cy="316.1" r="1.05"/><circle cx="283.0" cy="315.6" r="1.05"/><circle cx="284.0" cy="316.5" r="1.05"/><circle cx="285.0" cy="314.5" r="1.05"/><circle cx="286.0" cy="314.5" r="1.05"/><circle cx="287.0" cy="316.5" r="1.05"/><circle cx="288.0" cy="315.3" r="1.05"/><circle cx="289.0" cy="316.4" r="1.05"/><circle cx="290.0" cy="315.9" r="1.05"/><circle cx="291.0" cy="316.8" r="1.05"/><circle cx="292.0" cy="316.2" r="1.05"/><circle cx="292.9" cy="315.4" r="1.05"/><circle cx="293.9" cy="316.8" r="1.05"/><circle cx="294.9" cy="315.8" r="1.05"/><circle cx="295.9" cy="316.7" r="1.05"/><circle cx="296.9" cy="316.1" r="1.05"/><circle cx="297.9" cy="318.1" r="1.05"/><circle cx="298.9" cy="316.2" r="1.05"/><circle cx="299.9" cy="316.3" r="1.05"/><circle cx="300.9" cy="316.4" r="1.05"/><circle cx="301.9" cy="316.3" r="1.05"/><circle cx="302.9" cy="316.6" r="1.05"/><circle cx="303.8" cy="316.1" r="1.05"/><circle cx="304.8" cy="314.9" r="1.05"/><circle cx="305.8" cy="315.8" r="1.05"/><circle cx="306.8" cy="316.8" r="1.05"/><circle cx="307.8" cy="315.9" r="1.05"/><circle cx="308.8" cy="315.1" r="1.05"/><circle cx="309.8" cy="315.2" r="1.05"/><circle cx="310.8" cy="315.3" r="1.05"/><circle cx="311.8" cy="316.2" r="1.05"/><circle cx="312.8" cy="315.0" r="1.05"/><circle cx="313.7" cy="315.6" r="1.05"/><circle cx="314.7" cy="313.3" r="1.05"/><circle cx="315.7" cy="312.4" r="1.05"/><circle cx="316.7" cy="311.9" r="1.05"/><circle cx="317.7" cy="310.7" r="1.05"/><circle cx="318.7" cy="313.9" r="1.05"/><circle cx="319.7" cy="316.0" r="1.05"/><circle cx="320.7" cy="316.8" r="1.05"/><circle cx="321.7" cy="314.2" r="1.05"/><circle cx="322.7" cy="315.8" r="1.05"/><circle cx="323.7" cy="314.4" r="1.05"/><circle cx="324.6" cy="315.6" r="1.05"/><circle cx="325.6" cy="316.0" r="1.05"/><circle cx="326.6" cy="316.7" r="1.05"/><circle cx="327.6" cy="315.5" r="1.05"/><circle cx="328.6" cy="316.0" r="1.05"/><circle cx="329.6" cy="315.4" r="1.05"/><circle cx="330.6" cy="313.6" r="1.05"/><circle cx="331.6" cy="314.8" r="1.05"/><circle cx="332.6" cy="309.8" r="1.05"/><circle cx="333.6" cy="294.3" r="1.05"/><circle cx="334.2" cy="287.0" r="1.05"/><circle cx="334.5" cy="292.1" r="1.05"/><circle cx="335.5" cy="305.3" r="1.05"/><circle cx="336.5" cy="316.0" r="1.05"/><circle cx="337.5" cy="316.2" r="1.05"/><circle cx="338.5" cy="315.1" r="1.05"/><circle cx="339.5" cy="315.7" r="1.05"/><circle cx="340.5" cy="316.8" r="1.05"/><circle cx="341.5" cy="316.1" r="1.05"/><circle cx="342.5" cy="315.3" r="1.05"/><circle cx="343.5" cy="316.2" r="1.05"/><circle cx="344.5" cy="317.4" r="1.05"/><circle cx="345.4" cy="315.5" r="1.05"/><circle cx="346.4" cy="314.4" r="1.05"/><circle cx="347.4" cy="314.9" r="1.05"/><circle cx="348.4" cy="316.9" r="1.05"/><circle cx="349.4" cy="316.2" r="1.05"/><circle cx="350.4" cy="317.1" r="1.05"/><circle cx="351.4" cy="315.8" r="1.05"/><circle cx="352.4" cy="316.4" r="1.05"/><circle cx="353.4" cy="315.4" r="1.05"/><circle cx="354.4" cy="316.0" r="1.05"/><circle cx="355.3" cy="315.0" r="1.05"/><circle cx="356.3" cy="315.2" r="1.05"/><circle cx="357.3" cy="314.4" r="1.05"/><circle cx="358.3" cy="314.5" r="1.05"/><circle cx="359.3" cy="315.1" r="1.05"/><circle cx="360.3" cy="315.6" r="1.05"/><circle cx="361.3" cy="317.2" r="1.05"/><circle cx="362.3" cy="316.7" r="1.05"/><circle cx="363.3" cy="316.3" r="1.05"/><circle cx="364.3" cy="316.3" r="1.05"/><circle cx="365.3" cy="316.4" r="1.05"/><circle cx="366.2" cy="315.3" r="1.05"/><circle cx="367.2" cy="315.9" r="1.05"/><circle cx="368.2" cy="316.6" r="1.05"/><circle cx="369.2" cy="316.9" r="1.05"/><circle cx="370.2" cy="313.8" r="1.05"/><circle cx="371.2" cy="315.8" r="1.05"/><circle cx="372.2" cy="315.0" r="1.05"/><circle cx="373.2" cy="315.7" r="1.05"/><circle cx="374.2" cy="314.2" r="1.05"/><circle cx="375.2" cy="315.0" r="1.05"/><circle cx="376.2" cy="315.3" r="1.05"/><circle cx="377.1" cy="315.1" r="1.05"/><circle cx="378.1" cy="314.9" r="1.05"/><circle cx="379.1" cy="316.3" r="1.05"/><circle cx="380.1" cy="316.0" r="1.05"/><circle cx="381.1" cy="315.7" r="1.05"/><circle cx="382.1" cy="315.9" r="1.05"/><circle cx="383.1" cy="315.1" r="1.05"/><circle cx="384.1" cy="315.6" r="1.05"/><circle cx="385.1" cy="315.0" r="1.05"/><circle cx="386.1" cy="314.7" r="1.05"/><circle cx="387.0" cy="315.0" r="1.05"/><circle cx="388.0" cy="315.4" r="1.05"/><circle cx="389.0" cy="316.3" r="1.05"/><circle cx="390.0" cy="314.3" r="1.05"/><circle cx="391.0" cy="314.6" r="1.05"/><circle cx="392.0" cy="316.3" r="1.05"/><circle cx="393.0" cy="315.2" r="1.05"/><circle cx="394.0" cy="314.7" r="1.05"/><circle cx="395.0" cy="314.4" r="1.05"/><circle cx="396.0" cy="314.5" r="1.05"/><circle cx="397.0" cy="315.7" r="1.05"/><circle cx="397.4" cy="315.1" r="1.05"/><circle cx="397.9" cy="316.7" r="1.05"/><circle cx="398.4" cy="317.0" r="1.05"/><circle cx="398.9" cy="316.4" r="1.05"/><circle cx="399.4" cy="315.2" r="1.05"/><circle cx="399.9" cy="312.0" r="1.05"/><circle cx="400.4" cy="308.3" r="1.05"/><circle cx="400.9" cy="302.9" r="1.05"/><circle cx="401.6" cy="296.1" r="1.05"/><circle cx="401.9" cy="300.3" r="1.05"/><circle cx="402.4" cy="304.9" r="1.05"/><circle cx="402.9" cy="309.4" r="1.05"/><circle cx="403.4" cy="314.5" r="1.05"/><circle cx="403.9" cy="316.0" r="1.05"/><circle cx="404.4" cy="314.8" r="1.05"/><circle cx="404.9" cy="316.5" r="1.05"/><circle cx="405.4" cy="316.2" r="1.05"/><circle cx="405.9" cy="316.6" r="1.05"/><circle cx="406.9" cy="316.7" r="1.05"/><circle cx="407.8" cy="315.0" r="1.05"/><circle cx="408.8" cy="312.6" r="1.05"/><circle cx="409.7" cy="310.2" r="1.05"/><circle cx="410.8" cy="313.0" r="1.05"/><circle cx="411.8" cy="313.0" r="1.05"/><circle cx="412.8" cy="316.0" r="1.05"/><circle cx="413.8" cy="316.5" r="1.05"/><circle cx="414.8" cy="315.5" r="1.05"/><circle cx="415.8" cy="314.9" r="1.05"/><circle cx="416.8" cy="316.3" r="1.05"/><circle cx="417.8" cy="305.4" r="1.05"/><circle cx="418.7" cy="291.0" r="1.05"/><circle cx="419.3" cy="283.4" r="1.05"/><circle cx="419.7" cy="288.7" r="1.05"/><circle cx="420.7" cy="303.5" r="1.05"/><circle cx="421.7" cy="315.9" r="1.05"/><circle cx="422.7" cy="315.4" r="1.05"/><circle cx="423.7" cy="317.2" r="1.05"/><circle cx="424.7" cy="317.0" r="1.05"/><circle cx="425.7" cy="316.9" r="1.05"/><circle cx="426.7" cy="315.9" r="1.05"/><circle cx="427.7" cy="316.4" r="1.05"/><circle cx="428.6" cy="315.3" r="1.05"/><circle cx="429.6" cy="315.4" r="1.05"/><circle cx="430.6" cy="315.0" r="1.05"/><circle cx="431.6" cy="315.6" r="1.05"/><circle cx="432.6" cy="316.2" r="1.05"/><circle cx="433.6" cy="316.6" r="1.05"/><circle cx="434.6" cy="316.3" r="1.05"/><circle cx="435.6" cy="316.4" r="1.05"/><circle cx="436.6" cy="314.8" r="1.05"/><circle cx="437.6" cy="316.0" r="1.05"/><circle cx="438.6" cy="316.3" r="1.05"/><circle cx="439.5" cy="314.9" r="1.05"/><circle cx="440.5" cy="314.4" r="1.05"/><circle cx="441.5" cy="314.6" r="1.05"/><circle cx="442.5" cy="315.1" r="1.05"/><circle cx="443.5" cy="314.8" r="1.05"/><circle cx="444.5" cy="315.0" r="1.05"/><circle cx="445.5" cy="317.9" r="1.05"/><circle cx="446.5" cy="315.8" r="1.05"/><circle cx="447.5" cy="317.4" r="1.05"/><circle cx="448.5" cy="315.4" r="1.05"/><circle cx="449.4" cy="314.0" r="1.05"/><circle cx="450.4" cy="317.9" r="1.05"/><circle cx="451.4" cy="314.5" r="1.05"/><circle cx="452.4" cy="316.8" r="1.05"/><circle cx="453.4" cy="316.9" r="1.05"/><circle cx="454.4" cy="315.9" r="1.05"/><circle cx="455.4" cy="315.4" r="1.05"/><circle cx="456.4" cy="315.4" r="1.05"/><circle cx="457.4" cy="315.5" r="1.05"/><circle cx="458.4" cy="315.0" r="1.05"/><circle cx="459.4" cy="314.2" r="1.05"/><circle cx="460.3" cy="316.1" r="1.05"/><circle cx="461.3" cy="316.0" r="1.05"/><circle cx="462.3" cy="316.6" r="1.05"/><circle cx="463.3" cy="314.2" r="1.05"/><circle cx="464.3" cy="315.6" r="1.05"/><circle cx="465.3" cy="316.2" r="1.05"/><circle cx="466.3" cy="315.9" r="1.05"/><circle cx="467.3" cy="316.7" r="1.05"/><circle cx="468.3" cy="317.6" r="1.05"/><circle cx="469.3" cy="317.9" r="1.05"/><circle cx="470.2" cy="310.8" r="1.05"/><circle cx="471.2" cy="277.7" r="1.05"/><circle cx="472.2" cy="159.0" r="1.05"/><circle cx="472.5" cy="126.3" r="1.05"/><circle cx="472.7" cy="152.5" r="1.05"/><circle cx="473.7" cy="271.2" r="1.05"/><circle cx="474.7" cy="308.0" r="1.05"/><circle cx="475.7" cy="316.3" r="1.05"/><circle cx="476.7" cy="313.4" r="1.05"/><circle cx="477.7" cy="315.9" r="1.05"/><circle cx="478.7" cy="315.3" r="1.05"/><circle cx="479.7" cy="314.7" r="1.05"/><circle cx="480.6" cy="315.5" r="1.05"/><circle cx="481.6" cy="315.4" r="1.05"/><circle cx="482.6" cy="316.6" r="1.05"/><circle cx="483.6" cy="315.5" r="1.05"/><circle cx="484.6" cy="315.0" r="1.05"/><circle cx="485.6" cy="316.2" r="1.05"/><circle cx="486.6" cy="315.6" r="1.05"/><circle cx="487.6" cy="315.7" r="1.05"/><circle cx="488.6" cy="316.1" r="1.05"/><circle cx="489.6" cy="315.6" r="1.05"/><circle cx="490.6" cy="313.8" r="1.05"/><circle cx="491.5" cy="315.8" r="1.05"/><circle cx="492.5" cy="315.4" r="1.05"/><circle cx="493.5" cy="315.3" r="1.05"/><circle cx="494.5" cy="316.5" r="1.05"/><circle cx="495.5" cy="316.4" r="1.05"/><circle cx="496.5" cy="316.2" r="1.05"/><circle cx="497.5" cy="317.1" r="1.05"/><circle cx="498.5" cy="317.0" r="1.05"/><circle cx="499.5" cy="318.4" r="1.05"/><circle cx="500.5" cy="315.4" r="1.05"/><circle cx="501.4" cy="315.1" r="1.05"/><circle cx="502.4" cy="316.7" r="1.05"/><circle cx="503.4" cy="316.5" r="1.05"/><circle cx="504.4" cy="314.4" r="1.05"/><circle cx="505.4" cy="315.3" r="1.05"/><circle cx="506.4" cy="315.2" r="1.05"/><circle cx="507.4" cy="314.7" r="1.05"/><circle cx="508.4" cy="316.3" r="1.05"/><circle cx="509.4" cy="314.9" r="1.05"/><circle cx="510.4" cy="316.8" r="1.05"/><circle cx="511.4" cy="314.0" r="1.05"/><circle cx="512.3" cy="313.2" r="1.05"/><circle cx="513.3" cy="311.3" r="1.05"/><circle cx="513.7" cy="310.5" r="1.05"/><circle cx="514.3" cy="311.1" r="1.05"/><circle cx="515.3" cy="313.1" r="1.05"/><circle cx="516.3" cy="316.2" r="1.05"/><circle cx="517.3" cy="315.0" r="1.05"/><circle cx="518.3" cy="308.1" r="1.05"/><circle cx="519.3" cy="255.5" r="1.05"/><circle cx="520.3" cy="206.5" r="1.05"/><circle cx="520.6" cy="189.2" r="1.05"/><circle cx="521.3" cy="218.4" r="1.05"/><circle cx="522.2" cy="262.1" r="1.05"/><circle cx="523.2" cy="306.2" r="1.05"/><circle cx="524.2" cy="315.6" r="1.05"/><circle cx="525.2" cy="314.9" r="1.05"/><circle cx="526.2" cy="312.7" r="1.05"/><circle cx="527.2" cy="311.0" r="1.05"/><circle cx="527.8" cy="309.5" r="1.05"/><circle cx="528.2" cy="311.3" r="1.05"/><circle cx="529.2" cy="313.3" r="1.05"/><circle cx="530.2" cy="315.2" r="1.05"/><circle cx="531.2" cy="316.5" r="1.05"/><circle cx="532.2" cy="314.8" r="1.05"/><circle cx="533.1" cy="316.5" r="1.05"/><circle cx="534.1" cy="315.7" r="1.05"/><circle cx="535.1" cy="315.8" r="1.05"/><circle cx="536.1" cy="315.4" r="1.05"/><circle cx="537.1" cy="316.1" r="1.05"/><circle cx="538.1" cy="315.8" r="1.05"/></g>

<g stroke="#000" stroke-width="1.4" fill="none">
<rect x="47.3" y="8.9" width="491.49999999999994" height="359.0"/>
<line x1="43.3" y1="16.0" x2="47.3" y2="16.0"/><line x1="39.8" y1="83.2" x2="47.3" y2="83.2"/><line x1="43.3" y1="150.2" x2="47.3" y2="150.2"/><line x1="39.8" y1="217.3" x2="47.3" y2="217.3"/><line x1="43.3" y1="284.4" x2="47.3" y2="284.4"/><line x1="39.8" y1="351.2" x2="47.3" y2="351.2"/><line x1="58.2" y1="367.9" x2="58.2" y2="375.4"/><line x1="157.2" y1="367.9" x2="157.2" y2="371.9"/><line x1="256.3" y1="367.9" x2="256.3" y2="375.4"/><line x1="355.3" y1="367.9" x2="355.3" y2="371.9"/><line x1="454.4" y1="367.9" x2="454.4" y2="375.4"/>
</g>

<g stroke-width="1.1">
<line x1="58.2" y1="29.5" x2="71.8" y2="29.5" stroke="#333"/>
<line x1="85.3" y1="29.5" x2="99" y2="29.5" stroke="#333"/>
<circle cx="78.5" cy="29.5" r="1.2" fill="none" stroke="#999" stroke-width="0.8"/>
<line x1="58.2" y1="53.4" x2="71.8" y2="53.4" stroke="#f00"/>
<line x1="85.3" y1="53.4" x2="99" y2="53.4" stroke="#f00"/>
<circle cx="78.5" cy="53.4" r="1.2" fill="none" stroke="#f55" stroke-width="0.8"/>
</g>
<text x="102.6" y="35.5" font-size="17.9">BaF<tspan font-size="10" dy="7">2</tspan><tspan dy="-7">/Sc</tspan><tspan font-size="10" dy="7">2</tspan><tspan dy="-7">O</tspan><tspan font-size="10" dy="7">3</tspan><tspan dy="-7"> (2nm/20nm)</tspan></text>
<text x="102.6" y="59" font-size="17.9">Sc<tspan font-size="10" dy="7">2</tspan><tspan dy="-7">O</tspan><tspan font-size="10" dy="7">3</tspan><tspan dy="-7">/ BaF</tspan><tspan font-size="10" dy="7">2</tspan><tspan dy="-7"> (2nm/20nm)</tspan></text>

<text transform="translate(191.4,279.8) rotate(-90)" font-size="17.8">(222)</text><text transform="translate(320.5,287.7) rotate(-90)" font-size="17.8">(422)</text><text transform="translate(342.8,269.4) rotate(-90)" font-size="17.8">(431)</text><text transform="translate(402.3,289.3) rotate(-90)" font-size="17.8">(440)</text><text transform="translate(411.9,246.2) rotate(-90)" font-size="17.8">(433)</text><text transform="translate(430.0,279.1) rotate(-90)" font-size="17.8">(600)</text><text transform="translate(476.3,105.1) rotate(-90)" font-size="17.8">(541)</text><text transform="translate(509.0,274.2) rotate(-90)" font-size="17.8">(631)</text><text transform="translate(525.3,172.6) rotate(-90)" font-size="17.8">(444)</text><text transform="translate(226.7,282.3) rotate(-90)" font-size="17.8">BaF<tspan font-size="10" dy="7">2</tspan><tspan dy="-7" dx="-0.5"> (130)</tspan></text>
<text x="58.2" y="396.1" font-size="20" text-anchor="middle">20</text><text x="256.3" y="396.1" font-size="20" text-anchor="middle">40</text><text x="454.4" y="396.1" font-size="20" text-anchor="middle">60</text>
<text x="247" y="425" font-size="22">2<tspan dx="1.8">θ</tspan><tspan dx="-0.9"> (degrees)</tspan></text>
<text transform="translate(26,279) rotate(-90)" font-size="22.3">XRD Intensity (a.u.)</text>
</svg>
</body></html>
